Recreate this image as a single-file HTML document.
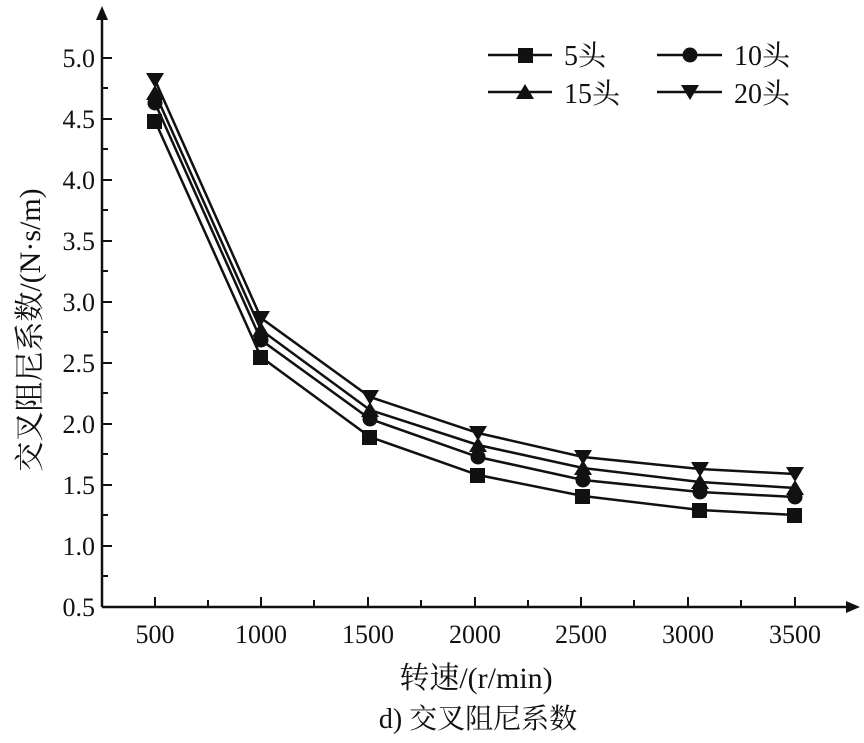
<!DOCTYPE html>
<html><head><meta charset="utf-8"><style>body{margin:0;background:#fff}</style></head><body>
<svg width="864" height="738" xmlns="http://www.w3.org/2000/svg" font-family="'Liberation Serif','Noto Serif CJK SC',serif" fill="#111">
<g stroke="#111" stroke-width="2.5" fill="none">
<line x1="102" y1="607" x2="852" y2="607"/>
<line x1="102" y1="607" x2="102" y2="16"/>
</g>
<polygon points="860,607 846,601 846,613" fill="#111"/>
<polygon points="102,6 96,20 108,20" fill="#111"/>
<g stroke="#111" stroke-width="2">
<line x1="155" y1="607" x2="155" y2="597"/><line x1="261" y1="607" x2="261" y2="597"/><line x1="368" y1="607" x2="368" y2="597"/><line x1="475" y1="607" x2="475" y2="597"/><line x1="581" y1="607" x2="581" y2="597"/><line x1="688" y1="607" x2="688" y2="597"/><line x1="795" y1="607" x2="795" y2="597"/>
<line x1="208" y1="607" x2="208" y2="600"/><line x1="314" y1="607" x2="314" y2="600"/><line x1="421" y1="607" x2="421" y2="600"/><line x1="528" y1="607" x2="528" y2="600"/><line x1="634" y1="607" x2="634" y2="600"/><line x1="741" y1="607" x2="741" y2="600"/>
<line x1="102" y1="546" x2="112" y2="546"/><line x1="102" y1="485" x2="112" y2="485"/><line x1="102" y1="424" x2="112" y2="424"/><line x1="102" y1="363" x2="112" y2="363"/><line x1="102" y1="302" x2="112" y2="302"/><line x1="102" y1="241" x2="112" y2="241"/><line x1="102" y1="180" x2="112" y2="180"/><line x1="102" y1="119" x2="112" y2="119"/><line x1="102" y1="58" x2="112" y2="58"/>
<line x1="102" y1="576" x2="108" y2="576"/><line x1="102" y1="515" x2="108" y2="515"/><line x1="102" y1="454" x2="108" y2="454"/><line x1="102" y1="393" x2="108" y2="393"/><line x1="102" y1="332" x2="108" y2="332"/><line x1="102" y1="271" x2="108" y2="271"/><line x1="102" y1="210" x2="108" y2="210"/><line x1="102" y1="149" x2="108" y2="149"/><line x1="102" y1="88" x2="108" y2="88"/>
</g>
<g font-size="26" text-anchor="end">
<text x="95" y="616">0.5</text><text x="95" y="555">1.0</text><text x="95" y="494">1.5</text><text x="95" y="433">2.0</text><text x="95" y="372">2.5</text><text x="95" y="311">3.0</text><text x="95" y="250">3.5</text><text x="95" y="189">4.0</text><text x="95" y="128">4.5</text><text x="95" y="67">5.0</text>
</g>
<g font-size="26" text-anchor="middle">
<text x="155" y="643">500</text><text x="261" y="643">1000</text><text x="368" y="643">1500</text><text x="475" y="643">2000</text><text x="581" y="643">2500</text><text x="688" y="643">3000</text><text x="795" y="643">3500</text>
</g>
<g font-size="30" text-anchor="middle">
<text x="476" y="688">转速/(r/min)</text>
<text x="478" y="728" font-size="28">d) 交叉阻尼系数</text>
</g>
<text transform="translate(40,330) rotate(-90)" font-size="30" text-anchor="middle">交叉阻尼系数/(N·s/m)</text>
<g stroke="#111" stroke-width="2.5" fill="none">
<polyline points="155,121 261,357 370,437 478,475 583,496 700,510 795,515"/>
<polyline points="155,103 261,340 370,419 478,457 583,480 700,492 795,497"/>
<polyline points="155,93 261,330 370,410 478,445 583,468 700,482 795,488"/>
<polyline points="155,80 261,318 370,397 478,433 583,457 700,469 795,474"/>
<line x1="488" y1="55" x2="552" y2="55"/><line x1="657" y1="55" x2="722" y2="55"/>
<line x1="488" y1="92" x2="552" y2="92"/><line x1="657" y1="92" x2="722" y2="92"/>
</g>
<g fill="#111">
<rect x="147" y="114" width="15" height="15"/><rect x="253" y="350" width="15" height="15"/><rect x="362" y="430" width="15" height="15"/><rect x="470" y="468" width="15" height="15"/><rect x="575" y="489" width="15" height="15"/><rect x="692" y="503" width="15" height="15"/><rect x="787" y="508" width="15" height="15"/><rect x="518" y="48" width="15" height="15"/>
<circle cx="155" cy="103" r="7.5"/><circle cx="261" cy="340" r="7.5"/><circle cx="370" cy="419" r="7.5"/><circle cx="478" cy="457" r="7.5"/><circle cx="583" cy="480" r="7.5"/><circle cx="700" cy="492" r="7.5"/><circle cx="795" cy="497" r="7.5"/><circle cx="690" cy="55" r="7.5"/>
<polygon points="155,85 146,100 164,100"/>
<polygon points="261,322 252,337 270,337"/><polygon points="370,402 361,417 379,417"/><polygon points="478,437 469,452 487,452"/><polygon points="583,460 574,475 592,475"/><polygon points="700,474 691,489 709,489"/><polygon points="795,480 786,495 804,495"/><polygon points="525,84 516,99 534,99"/>
<polygon points="146,73 164,73 155,88"/><polygon points="252,311 270,311 261,326"/><polygon points="361,390 379,390 370,405"/><polygon points="469,426 487,426 478,441"/><polygon points="574,450 592,450 583,465"/><polygon points="691,462 709,462 700,477"/><polygon points="786,467 804,467 795,482"/><polygon points="681,85 699,85 690,100"/>
</g>
<g font-size="28">
<text x="564" y="65">5头</text><text x="734" y="65">10头</text>
<text x="564" y="103">15头</text><text x="734" y="103">20头</text>
</g>
</svg>
</body></html>
